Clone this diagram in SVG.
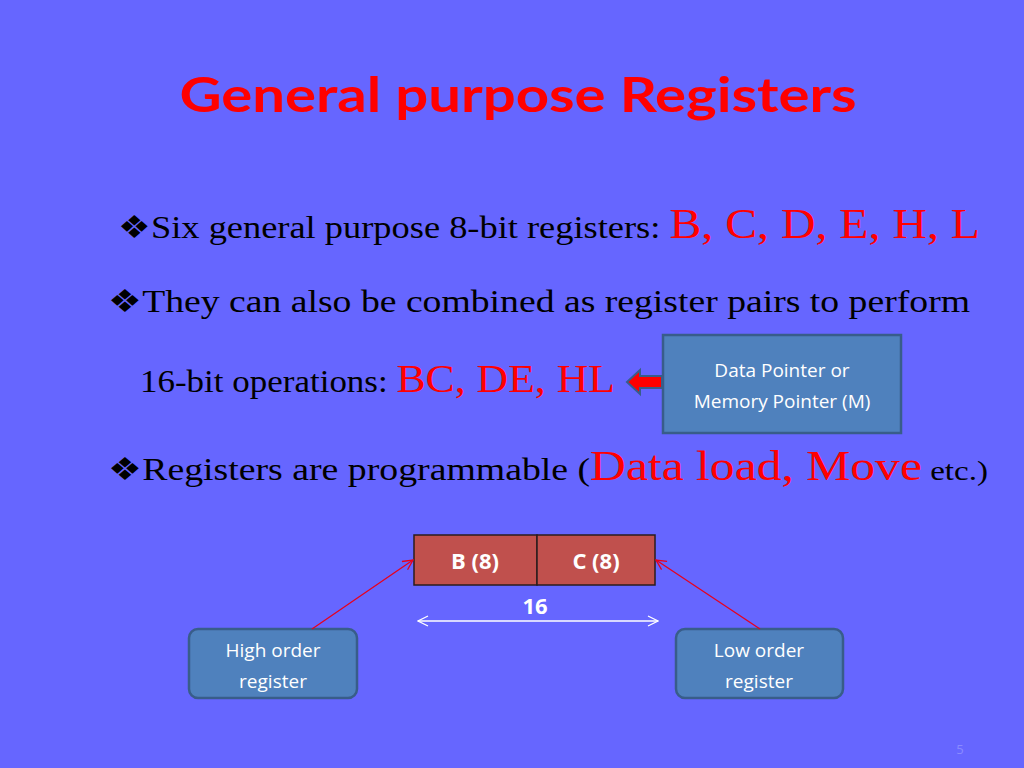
<svg xmlns="http://www.w3.org/2000/svg" width="1024" height="768" viewBox="0 0 1024 768">
<defs>
<style>
.s{font-family:"Liberation Serif",serif;fill:#000;font-size:32px}
.r{fill:#ff0000}
.c{font-family:"Open Sans","Liberation Sans",sans-serif;fill:#fff;text-anchor:middle}
.box{fill:#4f81bd;stroke:#385d8a;stroke-width:2.5}
.reg{fill:#c0504d;stroke:#2b1c1c;stroke-width:1.5}
</style>
<marker id="ar" viewBox="0 0 12 12" refX="11" refY="6" markerWidth="12" markerHeight="12" markerUnits="userSpaceOnUse" orient="auto"><path d="M1,1 L11,6 L1,11" fill="none" stroke="#e8001c" stroke-width="1.3"/></marker>
<marker id="aw" viewBox="0 0 12 12" refX="11" refY="6" markerWidth="12" markerHeight="12" markerUnits="userSpaceOnUse" orient="auto-start-reverse"><path d="M1,1 L11,6 L1,11" fill="none" stroke="#fff" stroke-width="1.3"/></marker>
</defs>
<rect width="1024" height="768" fill="#6666ff"/>
<text x="518" y="112" text-anchor="middle" font-family="Lato,'Open Sans',sans-serif" font-weight="bold" font-size="48" fill="#ff0000" textLength="677" lengthAdjust="spacingAndGlyphs">General purpose Registers</text>
<text class="s" x="118" y="238" textLength="862" lengthAdjust="spacingAndGlyphs">❖Six general purpose 8-bit registers: <tspan class="r" font-size="42">B, C, D, E, H, L</tspan></text>
<text class="s" x="108" y="312" textLength="862" lengthAdjust="spacingAndGlyphs">❖They can also be combined as register pairs to  perform</text>
<text class="s" x="140" y="392" textLength="475" lengthAdjust="spacingAndGlyphs">16-bit operations: <tspan class="r" font-size="40">BC, DE, HL</tspan></text>
<text class="s" x="108" y="480" textLength="880" lengthAdjust="spacingAndGlyphs">❖Registers are programmable (<tspan class="r" font-size="42">Data load, Move</tspan><tspan font-size="28"> etc.)</tspan></text>
<g id="pointer">
<rect class="box" x="663" y="335" width="238" height="98"/>
<text class="c" font-size="19"><tspan x="782" y="377">Data Pointer or</tspan><tspan x="782" y="408">Memory Pointer (M)</tspan></text>
</g>
<g id="blockarrow"><path d="M662,376 L640,376 L640,370 L627,382 L640,394 L640,388 L662,388 Z" fill="#ff0000" stroke="#385d8a" stroke-width="2"/></g>
<g id="regs">
<rect class="reg" x="414" y="535" width="123" height="50"/>
<rect class="reg" x="537" y="535" width="118" height="50"/>
<text class="c" font-size="22" font-weight="bold" x="475" y="569">B (8)</text>
<text class="c" font-size="22" font-weight="bold" x="596" y="569">C (8)</text>
</g>
<text class="c" font-size="22" font-weight="bold" x="535" y="614">16</text>
<g id="high"><rect class="box" x="189" y="629" width="168" height="69" rx="9"/>
<text class="c" font-size="19"><tspan x="273" y="657">High  order</tspan><tspan x="273" y="688">register</tspan></text></g>
<g id="low"><rect class="box" x="676" y="629" width="167" height="69" rx="9"/>
<text class="c" font-size="19"><tspan x="759" y="657">Low order</tspan><tspan x="759" y="688">register</tspan></text></g>
<g id="connectors">
<line x1="312" y1="629" x2="413" y2="560" stroke="#e8001c" stroke-width="1.3" marker-end="url(#ar)"/>
<line x1="760" y1="629" x2="656" y2="560" stroke="#e8001c" stroke-width="1.3" marker-end="url(#ar)"/>
<line x1="418" y1="621" x2="658" y2="621" stroke="#fff" stroke-width="1.3" marker-start="url(#aw)" marker-end="url(#aw)"/>
</g>
<text x="960" y="754" font-family="'Open Sans',sans-serif" font-size="13" fill="#8a8aff" text-anchor="middle">5</text>
</svg>
